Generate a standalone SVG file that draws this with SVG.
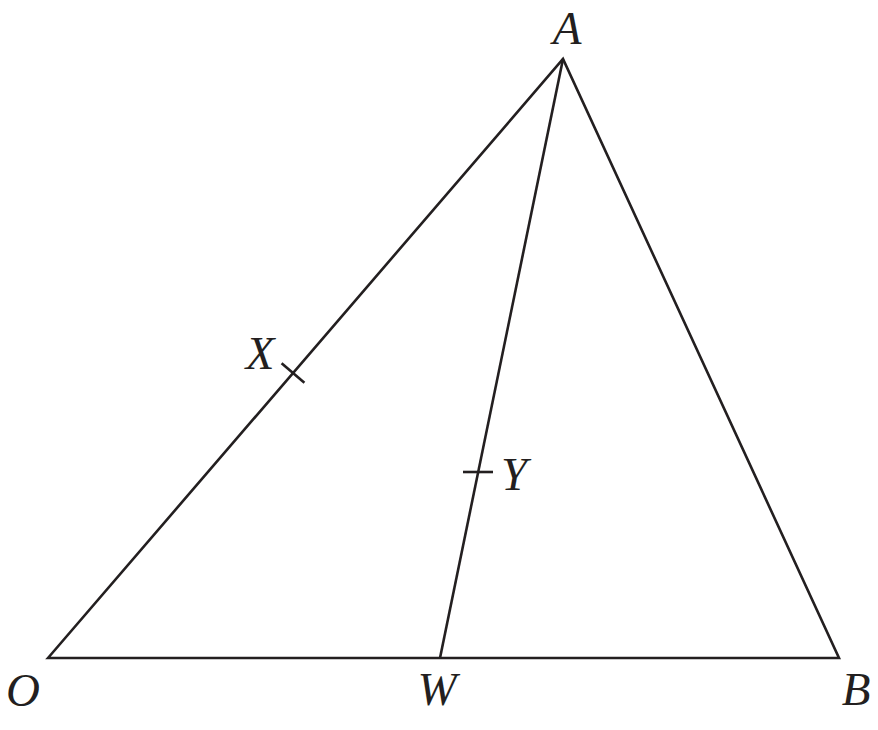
<svg xmlns="http://www.w3.org/2000/svg" width="878" height="730" viewBox="0 0 878 730">
<style>
.l{stroke:#231f20;stroke-width:2.6;fill:none;stroke-linejoin:miter}
.t{font-family:"Liberation Serif","Times New Roman",serif;font-style:italic;font-size:47px;fill:#231f20;text-anchor:middle}
</style>
<rect width="878" height="730" fill="#fff"/>
<g id="connectors">
<path class="l" d="M48,658 L563,59 L839,658 Z"/>
<line class="l" x1="563" y1="59" x2="440" y2="658"/>
<line class="l" x1="281.6" y1="363.2" x2="304.4" y2="382.8"/>
<line class="l" x1="463" y1="472" x2="493" y2="472"/>
</g>
<g id="A"><text class="t" x="567" y="44">A</text></g>
<g id="O"><text class="t" x="23" y="706">O</text></g>
<g id="W"><text class="t" x="437" y="705">W</text></g>
<g id="B"><text class="t" x="856" y="705">B</text></g>
<g id="X"><text class="t" x="260" y="369">X</text></g>
<g id="Y"><text class="t" x="514" y="490">Y</text></g>
</svg>
